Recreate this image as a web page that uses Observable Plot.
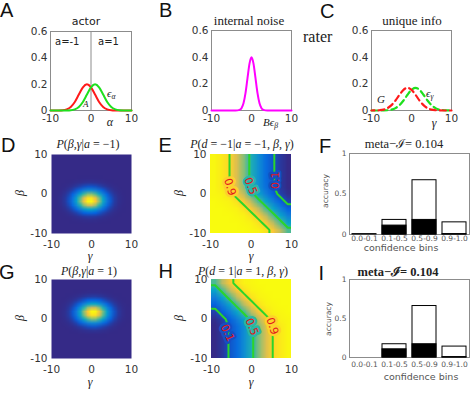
<!DOCTYPE html>
<html><head><meta charset="utf-8">
<script src="https://cdn.jsdelivr.net/npm/d3@7"></script>
<script src="https://cdn.jsdelivr.net/npm/@observablehq/plot@0.6"></script>
<style>
html,body{margin:0;padding:0;background:#fff;}
#root{position:relative;width:474px;height:393px;overflow:hidden;background:#fff;font-family:"DejaVu Sans";}
.t{position:absolute;white-space:nowrap;line-height:1;}
.t sub{font-size:70%;vertical-align:-0.3em;line-height:0;}
</style></head><body><div id="root"></div>
<script>
// ---------- data ----------
const gridX = [-10,-9,-8,-7,-6,-5,-4,-3,-2,-1,0,1,2,3,4,5,6,7,8,9,10];
const actorRed   = [0,0,0.0004,0.002,0.009,0.027,0.065,0.121,0.176,0.199,0.176,0.121,0.065,0.027,0.009,0.002,0.0004,0,0,0,0];
const actorGreen = [0,0,0,0,0.0004,0.002,0.009,0.027,0.065,0.121,0.176,0.199,0.176,0.121,0.065,0.027,0.009,0.002,0.0004,0,0];
const noiseX = [-10,-4,-3.5,-3,-2.5,-2,-1.5,-1,-0.5,0,0.5,1,1.5,2,2.5,3,3.5,4,10];
const noiseY = [0,0.0001,0.0009,0.0044,0.0175,0.054,0.130,0.242,0.352,0.399,0.352,0.242,0.130,0.054,0.0175,0.0044,0.0009,0.0001,0];
const uniqueRed   = [0.0001,0.0005,0.002,0.0065,0.018,0.040,0.075,0.118,0.155,0.170,0.155,0.118,0.075,0.040,0.018,0.0065,0.002,0.0005,0.0001,0,0];
const uniqueGreen = [0,0,0.0001,0.0005,0.002,0.0065,0.018,0.040,0.075,0.118,0.155,0.170,0.155,0.118,0.075,0.040,0.018,0.0065,0.002,0.0005,0.0001];
// P(beta,gamma|a=-1): profile along gamma (left→right) and beta (top→bottom), 21 samples each
const priorGamma = [0.001,0.003,0.011,0.033,0.086,0.192,0.364,0.592,0.822,0.974,0.986,0.853,0.631,0.398,0.215,0.099,0.039,0.013,0.004,0.001,0];
const priorBeta  = [0,0,0,0,0,0.0004,0.003,0.021,0.091,0.281,0.607,0.921,0.982,0.734,0.386,0.142,0.037,0.007,0.001,0.0001,0];
// P(d=-1|a=-1,beta,gamma): rows top (beta≈9) → bottom (beta≈-9), columns gamma -9 → 9
const decisionGrid = [
  [0.99,0.96,0.91,0.79,0.63,0.46,0.31,0.18,0.11,0.05,0.02],
  [0.99,0.96,0.91,0.79,0.63,0.46,0.31,0.18,0.11,0.05,0.02],
  [0.99,0.96,0.91,0.79,0.63,0.46,0.31,0.18,0.11,0.05,0.02],
  [0.99,0.96,0.91,0.79,0.63,0.46,0.31,0.18,0.11,0.05,0.02],
  [0.99,0.96,0.91,0.80,0.64,0.46,0.31,0.19,0.11,0.05,0.02],
  [0.99,0.98,0.94,0.86,0.73,0.56,0.39,0.25,0.14,0.07,0.03],
  [1.00,0.99,0.98,0.94,0.86,0.72,0.55,0.39,0.25,0.14,0.07],
  [1.00,1.00,0.99,0.98,0.94,0.86,0.72,0.55,0.39,0.25,0.14],
  [1.00,1.00,1.00,0.99,0.98,0.94,0.86,0.72,0.55,0.39,0.25],
  [1.00,1.00,1.00,1.00,0.99,0.98,0.94,0.86,0.72,0.55,0.39],
  [1.00,1.00,1.00,1.00,1.00,0.99,0.98,0.94,0.86,0.72,0.55]
];
const contourLevels = [0.9, 0.5, 0.1];
const labelGamma = [-5.2, -0.1, 6.0];
const labelBeta  = [1.8, 2.0, 3.5];
const labelRotateE = [72, 68, -90];
const labelRotateH = [72, 68, 65];
const confBins = ["0.0-0.1","0.1-0.5","0.5-0.9","0.9-1.0"];
const fTotal   = [0.005, 0.18, 0.67, 0.15];
const fCorrect = [0, 0.11, 0.18, 0.005];
const iTotal   = [0, 0.17, 0.66, 0.14];
const iCorrect = [0, 0.105, 0.17, 0.005];
const metaI = "0.104";
const ticks10 = [-10, 0, 10];
const ticksDensity = [0, 0.2, 0.4, 0.6];
const ticksAcc = [0, 0.5, 1];
const parula = ["#352a87","#0363e1","#1481d6","#06a4ca","#2eb7a4","#87bf77","#d1bb59","#fec832","#f9fb0e"];

// ---------- helpers ----------
const root = document.getElementById("root");
const M = {l: 34, r: 8, t: 6, b: 26};
function frameOpts([fl, ft, fr, fb]) {
  return {width: fr - fl + M.l + M.r, height: fb - ft + M.t + M.b,
          marginLeft: M.l, marginRight: M.r, marginTop: M.t, marginBottom: M.b};
}
function mount(svg, [fl, ft]) {
  svg.style.position = "absolute";
  svg.style.left = (fl - M.l) + "px";
  svg.style.top = (ft - M.t) + "px";
  root.appendChild(svg);
}
const baseStyle = {background: "transparent", fontFamily: "DejaVu Sans", fontSize: "10.5px", color: "#333", overflow: "visible"};
const SERIF = '"Liberation Serif","DejaVu Serif",serif';
function label(html, x, y, o = {}) {
  const size = o.size ?? 10;
  const el = document.createElement("div");
  el.className = "t";
  el.innerHTML = html;
  el.style.fontSize = size + "px";
  el.style.fontFamily = o.font ?? "DejaVu Sans";
  el.style.color = o.color ?? "#222";
  if (o.italic) el.style.fontStyle = "italic";
  if (o.weight) el.style.fontWeight = o.weight;
  el.style.left = x + "px";
  if (o.rotate) {
    el.style.top = y + "px";
    el.style.transform = `translate(-50%,-50%) rotate(${o.rotate}deg)`;
  } else {
    el.style.top = (y - 0.84 * size) + "px";
    const a = o.anchor ?? "start";
    if (a === "middle") el.style.transform = "translateX(-50%)";
    if (a === "end") el.style.transform = "translateX(-100%)";
  }
  root.appendChild(el);
}
const parulaInterp = d3.piecewise(d3.interpolateRgb, parula);

// ---------- density panels (A, B, C) ----------
function densityPanel(box, marks) {
  const svg = Plot.plot({
    ...frameOpts(box),
    style: baseStyle,
    x: {domain: [-10, 10], ticks: ticks10, tickSize: 0, tickPadding: 4, tickFormat: d => String(d), label: null},
    y: {domain: [0, 0.6], ticks: ticksDensity, tickSize: 0, tickPadding: 3, tickFormat: d => d === 0 ? "0" : d.toFixed(1), label: null},
    marks: [Plot.frame({stroke: "#8c8c8c"}), ...marks]
  });
  mount(svg, box);
}
const RED = "#ff1a1a", GREEN = "#1ee01e";
densityPanel([50, 31, 131, 110], [
  Plot.ruleX([0], {stroke: "#8c8c8c"}),
  Plot.line(actorRed, {x: gridX, y: actorRed, stroke: RED, strokeWidth: 2, curve: "monotone-x"}),
  Plot.line(actorGreen, {x: gridX, y: actorGreen, stroke: GREEN, strokeWidth: 2, curve: "monotone-x"})
]);
densityPanel([211, 30, 291, 110], [
  Plot.line(noiseY, {x: noiseX, y: noiseY, stroke: "#ff00ff", strokeWidth: 2, curve: "monotone-x"})
]);
densityPanel([371, 30, 451, 110], [
  Plot.line(uniqueGreen, {x: gridX, y: uniqueGreen, stroke: GREEN, strokeWidth: 2.2, strokeDasharray: "6,4", curve: "monotone-x"}),
  Plot.line(uniqueRed, {x: gridX, y: uniqueRed, stroke: RED, strokeWidth: 2.2, strokeDasharray: "6,4", strokeDashoffset: 3, curve: "monotone-x"})
]);

// ---------- heat-map panels (D, E, G, H) ----------
function heatPanel(box, domain, marks) {
  const svg = Plot.plot({
    ...frameOpts(box),
    style: baseStyle,
    x: {domain: [-10, 10], ticks: ticks10, tickSize: 0, tickPadding: 7, tickFormat: d => String(d), label: null},
    y: {domain: [-10, 10], ticks: ticks10, tickSize: 0, tickPadding: 4, tickFormat: d => String(d), label: null},
    color: {type: "linear", domain, interpolate: parulaInterp},
    marks
  });
  mount(svg, box);
}
// prior blobs: outer product of the two profiles (G is the mirror image of D)
const priorD = priorBeta.flatMap(b => priorGamma.map(g => b * g));
const priorG = priorD.slice().reverse();
const nP = priorGamma.length;
function priorMarks(values) {
  return [Plot.raster(values, {width: nP, height: nP, x1: -10, x2: 10, y1: 10, y2: -10, fill: Plot.identity})];
}
heatPanel([51, 154, 131, 233], [0, d3.max(priorD)], priorMarks(priorD));
heatPanel([51, 279, 131, 358], [0, d3.max(priorG)], priorMarks(priorG));

// decision maps: grid padded by one edge-replicated cell on each side, then clipped
function padGrid(g) {
  const rows = g.map(r => [r[0], ...r, r[r.length - 1]]);
  return [rows[0], ...rows, rows[rows.length - 1]];
}
const nD = decisionGrid.length;
const cell = 20 / nD;
function decisionMarks(grid, lx, ly, rot) {
  const padded = padGrid(grid).flat();
  const n = nD + 2;
  const ext = {width: n, height: n, x1: -10 - cell, x2: 10 + cell, y1: 10 + cell, y2: -10 - cell};
  return [
    Plot.raster(padded, {...ext, fill: Plot.identity, clip: true}),
    Plot.contour(padded, {...ext, value: Plot.identity, thresholds: contourLevels, fill: "none", stroke: "#2bd42b", strokeWidth: 2, clip: true}),
    Plot.text(contourLevels, {x: lx, y: ly, rotate: rot, text: d => d.toFixed(1), fill: "#e3161c",
      stroke: d => d, strokeWidth: 5, fontSize: 11, fontFamily: "DejaVu Sans"})
  ];
}
const gridH = decisionGrid.map(r => r.slice().reverse()).reverse();
const extentE = d3.extent(decisionGrid.flat());
heatPanel([210, 154, 291, 233], extentE, decisionMarks(decisionGrid, labelGamma, labelBeta, labelRotateE));
heatPanel([211, 279, 291, 358], extentE, decisionMarks(gridH, labelGamma.map(v => -v), labelBeta.map(v => -v), labelRotateH));

// ---------- accuracy bar panels (F, I) ----------
function barPanel(box, total, correct, pad) {
  const svg = Plot.plot({
    ...frameOpts(box),
    style: {...baseStyle, fontSize: "7.5px", color: "#555"},
    x: {type: "band", domain: confBins, paddingInner: 0.2, paddingOuter: 0.1, tickSize: 0, tickPadding: pad, label: null},
    y: {domain: [0, 1], ticks: ticksAcc, tickSize: 0, tickPadding: 3, tickFormat: d => String(d), label: null},
    marks: [
      Plot.frame({stroke: "#8c8c8c"}),
      Plot.barY(total, {x: confBins, y: total, fill: "white", stroke: "black", strokeWidth: 1}),
      Plot.barY(correct, {x: confBins, y: correct, fill: "black", stroke: "black", strokeWidth: 1})
    ]
  });
  mount(svg, box);
}
barPanel([349, 153, 469, 234], fTotal, fCorrect, 1);
barPanel([349, 279, 469, 357], iTotal, iCorrect, 4);

// ---------- text ----------
const LET = {size: 20, font: '"Liberation Sans",Arial,sans-serif', color: "#111"};
label("A", 0, 17, LET); label("B", 159, 17, LET); label("C", 320, 18, LET);
label("D", 1, 152, LET); label("E", 158.5, 152, LET); label("F", 319, 153, LET);
label("G", -1, 279, LET); label("H", 158.5, 278, LET); label("I", 318.5, 280, LET);

label("actor", 86, 25, {size: 11, anchor: "middle"});
label("internal noise", 249, 25, {size: 13, font: SERIF, anchor: "middle"});
label("unique info", 412, 25, {size: 13, font: SERIF, anchor: "middle"});
label("rater", 303, 42, {size: 16, font: SERIF});

const T = {size: 12, font: SERIF, anchor: "middle"};
label("<i>P</i>(<i>β</i>,<i>γ</i>|<i>a</i> = −1)", 88, 148, T);
label("<i>P</i>(<i>d</i> = −1|<i>a</i> = −1, <i>β</i>, <i>γ</i>)", 242, 148, T);
label("<i>P</i>(<i>β</i>,<i>γ</i>|<i>a</i> = 1)", 89, 275, T);
label("<i>P</i>(<i>d</i> = 1|<i>a</i> = 1, <i>β</i>, <i>γ</i>)", 243, 275, T);
label(`meta−ℐ= ${metaI}`, 404, 148, {size: 12.5, font: SERIF, anchor: "middle"});
label(`meta−ℐ= ${metaI}`, 398, 276, {size: 12.5, font: SERIF, anchor: "middle", weight: "bold"});

const AX = {size: 12, font: SERIF, italic: true, anchor: "middle"};
label("α", 110, 126, AX);
label("B<i>ϵ</i><sub>β</sub>", 263, 126, {size: 11, font: SERIF, italic: true});
label("γ", 434, 127, AX);
label("γ", 90, 260, AX); label("γ", 251, 260, AX);
label("γ", 90, 386, AX); label("γ", 251, 386, AX);
const BR = {size: 12, font: SERIF, italic: true, rotate: -90};
label("β", 20, 193, BR); label("β", 179, 193, BR);
label("β", 20, 318, BR); label("β", 179, 318, BR);

label("accuracy", 326, 191, {size: 7.5, color: "#555", rotate: -90});
label("accuracy", 329, 319, {size: 7.5, color: "#555", rotate: -90});
label("confidence bins", 401, 251, {size: 9.5, color: "#555", anchor: "middle"});
label("confidence bins", 421, 380, {size: 9.5, color: "#555", anchor: "middle"});

label("a=-1", 55, 45, {size: 10});
label("a=1", 98, 45, {size: 10});
label("<i>ϵ</i><sub><i>α</i></sub>", 107, 97, {size: 11, font: SERIF});
label("<i>A</i>", 83, 108, {size: 9, font: SERIF});
label("<i>G</i>", 377, 103, {size: 11, font: SERIF});
label("<i>ϵ</i><sub><i>γ</i></sub>", 426, 97, {size: 11, font: SERIF});
</script></body></html>
